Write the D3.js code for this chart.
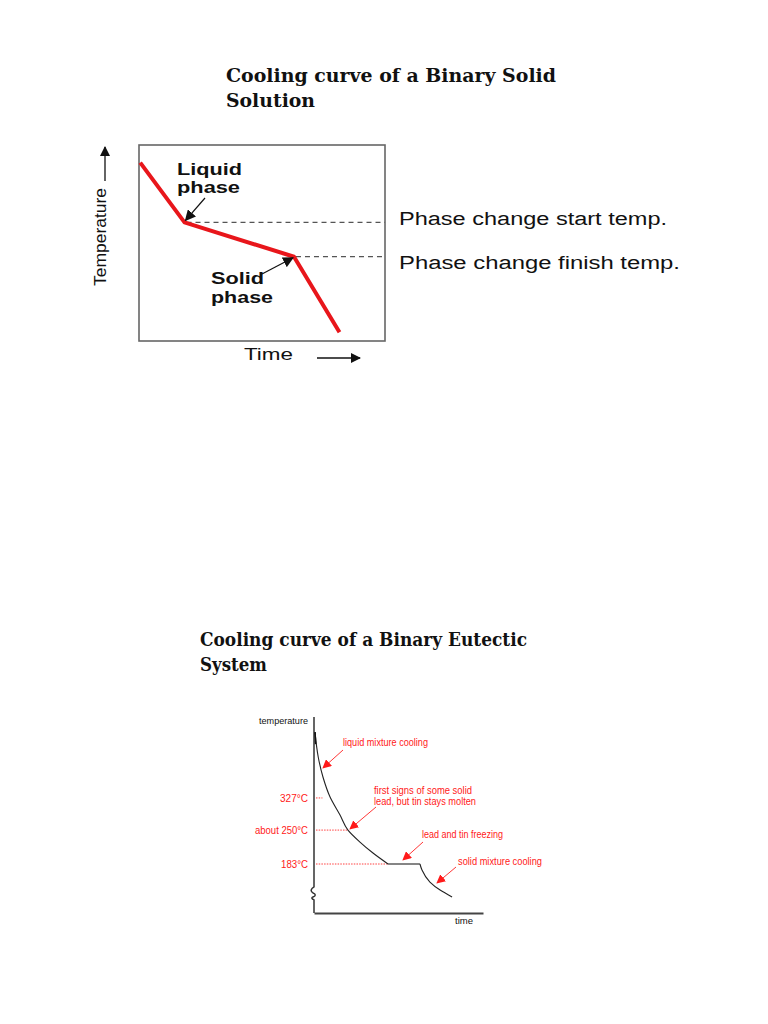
<!DOCTYPE html>
<html>
<head>
<meta charset="utf-8">
<script src="https://cdn.jsdelivr.net/npm/d3@7"></script>
<style>
  html, body { margin: 0; padding: 0; background: #fff; }
  svg { display: block; }
</style>
</head>
<body>
<svg id="chart" width="768" height="1024"></svg>
<script>
// ---------- Data: Binary Solid Solution (schematic units 0-100) ----------
const solidTime = [0.5, 18.5, 63, 81.5];
const solidTemp = [91, 60.5, 43, 4.5];
const solidLevels = [60.5, 43];            // start / finish temperature levels
const solidLevelTime = [18.5, 63];
const solidLevelLabels = ["Phase change start temp.", "Phase change finish temp."];
const solidPhaseLabels = [["Liquid", "phase"], ["Solid", "phase"]];

// ---------- Data: Binary Eutectic System (schematic units 0-100) ----------
const liquidTime = [0.6, 2.5, 5.3, 9.5, 15.4, 20.1, 27.2, 34.9, 43.8];
const liquidTemp = [92.3, 79.6, 69.4, 59.2, 50, 42.3, 36.2, 30.6, 25];
const plateauTime = [43.8, 62.7];
const plateauTemp = [25, 25];
const solidCoolTime = [62.7, 63.9, 68.6, 74.6, 81.7];
const solidCoolTemp = [25, 21.9, 15.8, 11.7, 8.2];
const eutLevels = [58.7, 42.3, 25];
const eutLevelTime = [5, 20.1, 43.8];
const eutLevelLabels = ["327°C", "about 250°C", "183°C"];
const eutNotes = ["liquid mixture cooling", "first signs of some solid", "lead, but tin stays molten", "lead and tin freezing", "solid mixture cooling"];

const svg = d3.select("#chart");
svg.append("rect").attr("width", 768).attr("height", 1024).attr("fill", "#fff");

const defs = svg.append("defs");
function marker(id, color, size) {
  defs.append("marker").attr("id", id)
    .attr("viewBox", "0 0 10 10").attr("refX", 9).attr("refY", 5)
    .attr("markerWidth", size).attr("markerHeight", size)
    .attr("markerUnits", "userSpaceOnUse")
    .attr("orient", "auto")
    .append("path").attr("d", "M0,0 L10,5 L0,10 Z").attr("fill", color);
}
marker("arrBlack", "#111", 11);
marker("arrBlackSm", "#111", 10);
marker("arrRed", "#ff1a1a", 9);

// ---------- Titles ----------
function title(lines, x, ys, widths) {
  lines.forEach((t, i) => {
    svg.append("text").attr("x", x).attr("y", ys[i])
      .attr("font-family", "'DejaVu Serif', serif").attr("font-weight", "bold")
      .attr("font-size", 19).attr("fill", "#111")
      .attr("textLength", widths[i]).attr("lengthAdjust", "spacingAndGlyphs")
      .text(t);
  });
}
title(["Cooling curve of a Binary Solid", "Solution"], 226, [82, 107], [330, 89]);
title(["Cooling curve of a Binary Eutectic", "System"], 200, [646, 671], [327, 67]);

// ---------- Chart 1 ----------
const x1 = d3.scaleLinear().domain([0, 100]).range([139, 385]);
const y1 = d3.scaleLinear().domain([0, 100]).range([341, 145]);
const g1 = svg.append("g");

g1.append("rect").attr("x", x1(0)).attr("y", y1(100))
  .attr("width", x1(100) - x1(0)).attr("height", y1(0) - y1(100))
  .attr("fill", "none").attr("stroke", "#666").attr("stroke-width", 1.6);

// dashed level lines
solidLevels.forEach((lv, i) => {
  g1.append("line").attr("x1", x1(solidLevelTime[i]) + 2).attr("x2", x1(100))
    .attr("y1", y1(lv)).attr("y2", y1(lv))
    .attr("stroke", "#555").attr("stroke-width", 1.3).attr("stroke-dasharray", "5,4");
});

// red cooling line
const pts1 = solidTime.map((t, i) => [t, solidTemp[i]]);
g1.append("path").datum(pts1)
  .attr("d", d3.line().x(d => x1(d[0])).y(d => y1(d[1])))
  .attr("fill", "none").attr("stroke", "#e8161b").attr("stroke-width", 4)
  .attr("stroke-linejoin", "round");

// phase labels
const sansBold = "'Liberation Sans', Arial, sans-serif";
const phaseLayout = [
  { x: 177, ys: [175, 193], w: [65, 63] },
  { x: 211, ys: [284, 303], w: [53, 62] }
];
solidPhaseLabels.forEach((lines, i) => {
  lines.forEach((t, j) => {
    g1.append("text").attr("x", phaseLayout[i].x).attr("y", phaseLayout[i].ys[j])
      .attr("font-family", sansBold).attr("font-weight", "bold").attr("font-size", 17)
      .attr("fill", "#111").attr("textLength", phaseLayout[i].w[j])
      .attr("lengthAdjust", "spacingAndGlyphs").text(t);
  });
});
// arrows to knees
g1.append("line").attr("x1", 205).attr("y1", 198)
  .attr("x2", x1(solidLevelTime[0]) + 1).attr("y2", y1(solidLevels[0]) - 2)
  .attr("stroke", "#111").attr("stroke-width", 1.2).attr("marker-end", "url(#arrBlack)");
g1.append("line").attr("x1", 262).attr("y1", 274)
  .attr("x2", x1(solidLevelTime[1]) - 1).attr("y2", y1(solidLevels[1]) + 1)
  .attr("stroke", "#111").attr("stroke-width", 1.2).attr("marker-end", "url(#arrBlack)");

// level labels on right
solidLevelLabels.forEach((t, i) => {
  g1.append("text").attr("x", 399).attr("y", y1(solidLevels[i]) + [3, 12][i])
    .attr("font-family", sansBold).attr("font-size", 18).attr("fill", "#111")
    .attr("textLength", [268, 281][i]).attr("lengthAdjust", "spacingAndGlyphs").text(t);
});

// axis titles
g1.append("text").attr("x", 244).attr("y", 360)
  .attr("font-family", sansBold).attr("font-size", 17).attr("fill", "#111")
  .attr("textLength", 49).attr("lengthAdjust", "spacingAndGlyphs").text("Time");
g1.append("line").attr("x1", 317).attr("x2", 360).attr("y1", 358).attr("y2", 358)
  .attr("stroke", "#111").attr("stroke-width", 1.3).attr("marker-end", "url(#arrBlackSm)");
g1.append("text").attr("transform", "translate(106,286) rotate(-90)")
  .attr("font-family", sansBold).attr("font-size", 16).attr("fill", "#111")
  .attr("textLength", 98).attr("lengthAdjust", "spacingAndGlyphs").text("Temperature");
g1.append("line").attr("x1", 105).attr("x2", 105).attr("y1", 181).attr("y2", 147)
  .attr("stroke", "#111").attr("stroke-width", 1.3).attr("marker-end", "url(#arrBlackSm)");

// ---------- Chart 2 ----------
const x2 = d3.scaleLinear().domain([0, 100]).range([314, 483]);
const y2 = d3.scaleLinear().domain([0, 100]).range([913, 717]);
const g2 = svg.append("g");
const sans = "'Liberation Sans', Arial, sans-serif";

// x axis (no ticks)
g2.append("g").attr("transform", `translate(0,${y2(0)})`)
  .call(d3.axisBottom(x2).tickValues([]).tickSizeOuter(0))
  .call(g => g.select(".domain").attr("stroke", "#444").attr("stroke-width", 2));
// y axis with break
const yb = [y2(100), y2(13.3), y2(6.6), y2(0)];
g2.append("path")
  .attr("d", `M${x2(0)},${yb[0]} L${x2(0)},${yb[1]} c-3,2 -4,4 -1,6 c3,1 3,3 0,4 c-2,1 -1,2 1,3 L${x2(0)},${yb[3]}`)
  .attr("fill", "none").attr("stroke", "#333").attr("stroke-width", 1.5);

// red dotted level lines + labels
eutLevels.forEach((lv, i) => {
  g2.append("line").attr("x1", x2(0) + 2).attr("x2", x2(eutLevelTime[i]))
    .attr("y1", y2(lv)).attr("y2", y2(lv))
    .attr("stroke", "#ff2a2a").attr("stroke-width", 0.9).attr("stroke-dasharray", "1.5,1.2");
  g2.append("text").attr("x", 308).attr("y", y2(lv) + 4).attr("text-anchor", "end")
    .attr("font-family", sans).attr("font-size", 10).attr("fill", "#ff2020")
    .attr("textLength", [28, 53, 27][i]).attr("lengthAdjust", "spacingAndGlyphs").text(eutLevelLabels[i]);
});

// cooling curve
const lineC = d3.line().x(d => x2(d[0])).y(d => y2(d[1]));
g2.append("path").datum(liquidTime.map((t, i) => [t, liquidTemp[i]]))
  .attr("d", lineC.curve(d3.curveMonotoneY))
  .attr("fill", "none").attr("stroke", "#222").attr("stroke-width", 1.1);
g2.append("path").datum(plateauTime.map((t, i) => [t, plateauTemp[i]]))
  .attr("d", d3.line().x(d => x2(d[0])).y(d => y2(d[1])))
  .attr("fill", "none").attr("stroke", "#222").attr("stroke-width", 1.1);
g2.append("path").datum(solidCoolTime.map((t, i) => [t, solidCoolTemp[i]]))
  .attr("d", d3.line().x(d => x2(d[0])).y(d => y2(d[1])).curve(d3.curveMonotoneY))
  .attr("fill", "none").attr("stroke", "#222").attr("stroke-width", 1.1);
// thicker start near the axis
g2.append("line").attr("x1", x2(liquidTime[0])).attr("y1", y2(liquidTemp[0]))
  .attr("x2", x2(liquidTime[0]) + 0.6).attr("y2", y2(liquidTemp[0]) + 12)
  .attr("stroke", "#111").attr("stroke-width", 1.6);

// axis labels
g2.append("text").attr("x", 259).attr("y", 724)
  .attr("font-family", sans).attr("font-size", 9.5).attr("fill", "#111")
  .attr("textLength", 49).attr("lengthAdjust", "spacingAndGlyphs").text("temperature");
g2.append("text").attr("x", 455).attr("y", 924)
  .attr("font-family", sans).attr("font-size", 9.5).attr("fill", "#111")
  .attr("textLength", 18).attr("lengthAdjust", "spacingAndGlyphs").text("time");

// red annotations
const noteLayout = [
  { x: 343, y: 746, w: 85 },
  { x: 374, y: 794, w: 98 },
  { x: 374, y: 805, w: 102 },
  { x: 422, y: 838, w: 81 },
  { x: 458, y: 865, w: 84 }
];
eutNotes.forEach((t, i) => {
  g2.append("text").attr("x", noteLayout[i].x).attr("y", noteLayout[i].y)
    .attr("font-family", sans).attr("font-size", 10).attr("fill", "#ff2020")
    .attr("textLength", noteLayout[i].w).attr("lengthAdjust", "spacingAndGlyphs").text(t);
});
const noteArrows = [
  [[343, 750], [323, 768]],
  [[376, 807], [350, 829]],
  [[423, 842], [403, 860]],
  [[456, 867], [437, 883]]
];
noteArrows.forEach(a => {
  g2.append("line").attr("x1", a[0][0]).attr("y1", a[0][1]).attr("x2", a[1][0]).attr("y2", a[1][1])
    .attr("stroke", "#ff2020").attr("stroke-width", 0.9).attr("marker-end", "url(#arrRed)");
});
</script>
</body>
</html>
